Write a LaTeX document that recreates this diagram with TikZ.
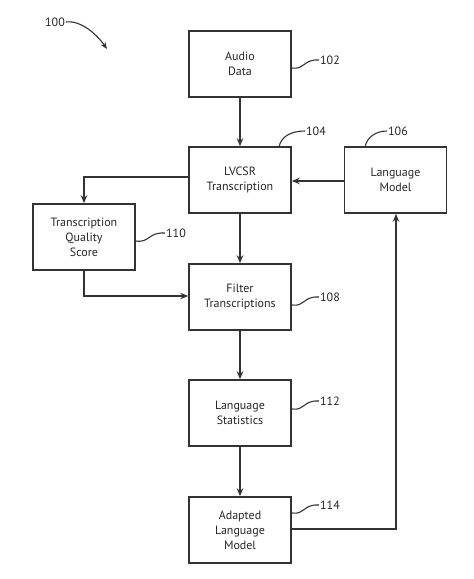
\documentclass[tikz,border=0pt]{standalone}
\usepackage{fontspec}
\setmainfont{PT Sans}
\usetikzlibrary{arrows.meta}
\begin{document}
\begin{tikzpicture}[x=1pt,y=-1pt,
  box/.style={draw=black!80, line width=1.6pt, minimum width=102pt, minimum height=66pt, align=center, inner sep=0pt, font=\fontsize{12}{15}\selectfont, text=black!85},
  conn/.style={draw=black!80, line width=1.6pt, -{Stealth[length=8pt,width=6.5pt]}},
  lead/.style={draw=black!80, line width=1.1pt},
  ref/.style={font=\fontsize{12}{14}\selectfont, text=black!85, inner sep=1pt}]
\useasboundingbox (0,0) rectangle (474,579);
\node[box] (audio) at (240,64) {Audio\\Data};
\node[box] (lvcsr) at (240,180) {LVCSR\\Transcription};
\node[box] (lm) at (395.5,180) {Language\\Model};
\node[box] (tqs) at (84,237) {Transcription\\Quality\\Score};
\node[box] (filter) at (240,297) {Filter\\Transcriptions};
\node[box] (stats) at (240,413) {Language\\Statistics};
\node[box] (alm) at (240,530) {Adapted\\Language\\Model};

\draw[conn] (audio) -- (lvcsr);
\draw[conn] (lvcsr) -- (filter);
\draw[conn] (filter) -- (stats);
\draw[conn] (stats) -- (alm);
\draw[conn] (lm.west |- 0,181) -- (lvcsr.east |- 0,181);
\draw[conn] (lvcsr.west |- 0,177) -| (tqs.north);
\draw[conn] (tqs.south) |- (filter.west |- 0,296);
\draw[conn] (alm.east |- 0,529) -| (lm.south -| 396,0);

% reference numerals
\node[ref] (n100) at (55,22) {100};
\coordinate (a100) at (107,49);
\draw[lead, -{Stealth[length=7pt,width=5.5pt]}] (n100.east) .. controls (82,20) and (98,36) .. (a100);

\node[ref, anchor=west] (n102) at (319,60) {102};
\draw[lead] (audio.east |- 0,68) .. controls (305,70) and (303,59) .. (n102.west);
\node[ref, anchor=west] (n104) at (305,131) {104};
\draw[lead] (279,147) .. controls (281,137) and (290,131) .. (n104.west);
\node[ref, anchor=west] (n106) at (387,131) {106};
\draw[lead] (365,147) .. controls (367,137) and (376,131) .. (n106.west);
\node[ref, anchor=west] (n110) at (165,233) {110};
\draw[lead] (tqs.east |- 0,241) .. controls (150,243) and (148,232) .. (n110.west);
\node[ref, anchor=west] (n108) at (319,297) {108};
\draw[lead] (filter.east |- 0,305) .. controls (305,307) and (303,296) .. (n108.west);
\node[ref, anchor=west] (n112) at (319,401) {112};
\draw[lead] (stats.east |- 0,409) .. controls (305,411) and (303,400) .. (n112.west);
\node[ref, anchor=west] (n114) at (319,505) {114};
\draw[lead] (alm.east |- 0,513) .. controls (305,515) and (303,504) .. (n114.west);
\end{tikzpicture}
\end{document}
